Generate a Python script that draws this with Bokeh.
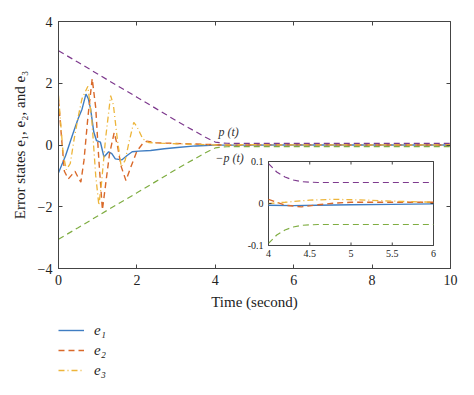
import math
from bokeh.plotting import figure
from bokeh.layouts import column
from bokeh.models import (Range1d, LinearAxis, FixedTicker, Legend, LegendItem)
from bokeh.core.properties import value
from bokeh.embed import file_html
from bokeh.resources import INLINE

# ---------------- data ----------------
t_p = [0, 0.5, 1, 1.5, 2, 2.5, 3, 3.5, 3.75, 4.0, 4.1, 4.2, 4.3, 4.4, 4.6, 5, 6, 8, 10]
p_vals = [3.05, 2.68, 2.3, 1.92, 1.55, 1.17, 0.79, 0.43, 0.25, 0.095, 0.075, 0.063,
          0.056, 0.052, 0.05, 0.05, 0.05, 0.05, 0.05]
neg_p_vals = [-v for v in p_vals]

t_e1 = [0, 0.18, 0.35, 0.5, 0.6, 0.7, 0.76, 0.82, 0.9, 0.97, 1.07, 1.16, 1.28, 1.36,
        1.45, 1.62, 1.75, 1.88, 2.05, 2.35, 2.7, 3.03, 3.5, 4.0, 4.3, 4.6, 5.0, 5.5,
        6.0, 8.0, 10.0]
e1 = [-0.9, -0.35, 0.3, 0.85, 1.16, 1.65, 1.5, 1.16, 0.42, 0.14, 0.09, -0.39, -0.22,
      -0.28, -0.45, -0.48, -0.34, -0.22, -0.2, -0.18, -0.12, -0.08, -0.03, -0.004,
      -0.005, -0.004, -0.003, -0.002, -0.001, 0.0, 0.0]

t_e2 = [0, 0.08, 0.15, 0.25, 0.35, 0.42, 0.5, 0.57, 0.65, 0.75, 0.86, 0.95, 1.03,
        1.12, 1.2, 1.3, 1.42, 1.5, 1.6, 1.72, 1.85, 2.0, 2.15, 2.25, 2.5, 3.0, 3.5,
        4.0, 4.2, 4.4, 4.6, 4.8, 5.0, 5.5, 6.0, 8.0, 10.0]
e2 = [1.45, 0.2, -0.85, -1.1, -0.95, -0.85, -1.05, -1.2, -0.5, 0.9, 2.15, 1.2, -0.5,
      -2.1, -1.3, -0.3, 0.4, 0.0, -0.7, -1.15, -0.7, -0.2, 0.05, 0.12, 0.07, 0.05,
      0.03, 0.01, -0.004, -0.008, -0.003, 0.001, 0.003, 0.003, 0.003, 0.002, 0.002]

t_e3 = [0, 0.05, 0.12, 0.2, 0.3, 0.4, 0.5, 0.6, 0.75, 0.85, 0.95, 1.03, 1.1, 1.2,
        1.33, 1.4, 1.5, 1.6, 1.7, 1.8, 1.92, 2.0, 2.15, 2.3, 2.6, 3.0, 3.5, 4.0,
        4.2, 4.5, 4.8, 5.2, 5.6, 6.0, 8.0, 10.0]
e3 = [1.6, 0.8, -0.3, -0.8, -0.6, 0.2, 0.9, 1.5, 1.9, 0.8, -1.0, -1.95, -1.2, 0.2,
      1.6, 1.3, 0.2, -0.7, -0.5, 0.1, 0.73, 0.6, 0.2, 0.08, 0.06, 0.04, 0.02, 0.0,
      0.003, 0.008, 0.01, 0.008, 0.005, 0.003, 0.002, 0.002]

x_ticks = [0, 2, 4, 6, 8, 10]
y_ticks = [-4, -2, 0, 2, 4]
inset_x_ticks = [4, 4.5, 5, 5.5, 6]
inset_x_labels = ["4", "4.5", "5", "5.5", "6"]
inset_y_ticks = [-0.1, 0, 0.1]
inset_y_labels = ["-0.1", "0", "0.1"]
legend_labels = ["e₁", "e₂", "e₃"]

# ---------------- styles ----------------
BLUE = "#3f7dc2"
ORANGE = "#d9692a"
YELLOW = "#edb53a"
PURPLE = "#7e3a8e"
GREEN = "#7fad42"
AXC = "#444444"
FONT = "Liberation Serif"
STYLES = {"e1": dict(line_color=BLUE, line_width=1.4),
          "e2": dict(line_color=ORANGE, line_width=1.4, line_dash="6 4"),
          "e3": dict(line_color=YELLOW, line_width=1.3, line_dash="6 3 1 3")}
SERIES = {"e1": (t_e1, e1), "e2": (t_e2, e2), "e3": (t_e3, e3)}

p = figure(width=466, height=314, min_border_left=58, min_border_right=16,
           min_border_top=21, min_border_bottom=46,
           x_range=Range1d(0, 10), y_range=Range1d(-4, 4),
           output_backend="svg", toolbar_location=None)
p.background_fill_color = "white"
p.border_fill_color = "white"
p.outline_line_color = AXC
p.xgrid.visible = False
p.ygrid.visible = False

for ax in (p.xaxis[0], p.yaxis[0]):
    ax.axis_line_color = AXC
    ax.major_tick_line_color = AXC
    ax.major_tick_in = 4
    ax.major_tick_out = 0
    ax.minor_tick_line_color = None
    ax.major_label_text_font = FONT
    ax.major_label_text_font_size = "14px"
    ax.major_label_text_color = "#222222"
    ax.axis_label_text_font = FONT
    ax.axis_label_text_font_size = "15px"
    ax.axis_label_text_font_style = "normal"
    ax.axis_label_text_color = "#222222"
    ax.major_label_standoff = 6
    ax.axis_label_standoff = 6

p.xaxis[0].ticker = FixedTicker(ticks=x_ticks)
p.yaxis[0].ticker = FixedTicker(ticks=y_ticks)
p.xaxis[0].axis_label = "Time (second)"
p.yaxis[0].axis_label = "Error states e₁, e₂, and e₃"
p.yaxis[0].axis_label_standoff = 7

# box axes (top and right) with inward ticks, no labels
top = LinearAxis(ticker=FixedTicker(ticks=x_ticks[1:-1]), major_label_text_alpha=0,
                 major_label_text_font_size="1px", axis_line_color=AXC,
                 major_tick_line_color=AXC, major_tick_in=4, major_tick_out=0,
                 minor_tick_line_color=None, major_label_standoff=0)
right = LinearAxis(ticker=FixedTicker(ticks=y_ticks[1:-1]), major_label_text_alpha=0,
                   major_label_text_font_size="1px", axis_line_color=AXC,
                   major_tick_line_color=AXC, major_tick_in=4, major_tick_out=0,
                   minor_tick_line_color=None, major_label_standoff=0)
p.add_layout(top, "above")
p.add_layout(right, "right")

# main lines
p.line(t_p, p_vals, line_color=PURPLE, line_width=1.2, line_dash="6 4")
p.line(t_p, neg_p_vals, line_color=GREEN, line_width=1.2, line_dash="6 4")
for key in ["e1", "e2", "e3"]:
    p.line(*SERIES[key], **STYLES[key])

p.text(x=[4.08], y=[0.42], text=["p (t)"], text_font=value(FONT),
       text_font_style="italic", text_font_size="12px", text_color="#333333",
       text_align="left", text_baseline="middle")
p.text(x=[4.0], y=[-0.42], text=["−p (t)"], text_font=value(FONT),
       text_font_style="italic", text_font_size="12px", text_color="#333333",
       text_align="left", text_baseline="middle")

# ---------------- inset (4..6 x -0.1..0.1) drawn through its own ranges ----------------
ix0, ix1 = 4.0, 6.0
iy0, iy1 = -0.1, 0.1
# inset box occupies px x 268..433, y 163..247 of the 392x247 frame (58..450, 23..270)
sx = (ix1 - ix0) / 165.0
sy = (iy1 - iy0) / 84.0
p.extra_x_ranges = {"ix": Range1d(ix0 - 210 * sx, ix1 + 17 * sx)}
p.extra_y_ranges = {"iy": Range1d(iy0 - 23 * sy, iy1 + 140 * sy)}

p.quad(left=[ix0], right=[ix1], bottom=[iy0], top=[iy1], fill_color="white",
       line_color=AXC, line_width=1, x_range_name="ix", y_range_name="iy")


def clip(ts, vs):
    xs, ys = [], []
    for t, v in zip(ts, vs):
        if ix0 <= t <= ix1:
            xs.append(t)
            ys.append(v)
    return xs, ys


for ts, vs, sty in [(t_p, p_vals, dict(line_color=PURPLE, line_width=1.2, line_dash="6 4")),
                    (t_p, neg_p_vals, dict(line_color=GREEN, line_width=1.2, line_dash="6 4")),
                    (t_e1, e1, STYLES["e1"]),
                    (t_e2, e2, STYLES["e2"]),
                    (t_e3, e3, STYLES["e3"])]:
    xs, ys = clip(ts, vs)
    p.line(xs, ys, x_range_name="ix", y_range_name="iy", **sty)

# inset ticks
p.ray(x=inset_x_ticks, y=[iy0] * 5, length=3, length_units="screen", angle=math.pi / 2,
      line_color=AXC, x_range_name="ix", y_range_name="iy")
p.ray(x=inset_x_ticks, y=[iy1] * 5, length=3, length_units="screen", angle=-math.pi / 2,
      line_color=AXC, x_range_name="ix", y_range_name="iy")
p.ray(x=[ix0] * 3, y=inset_y_ticks, length=3, length_units="screen", angle=0,
      line_color=AXC, x_range_name="ix", y_range_name="iy")
p.ray(x=[ix1] * 3, y=inset_y_ticks, length=3, length_units="screen", angle=math.pi,
      line_color=AXC, x_range_name="ix", y_range_name="iy")
p.text(x=inset_x_ticks, y=[iy0] * 5, text=inset_x_labels, text_font=value(FONT),
       text_font_size="10px", text_color="#222222", text_align="center",
       text_baseline="top", y_offset=4, x_range_name="ix", y_range_name="iy")
p.text(x=[ix0] * 3, y=inset_y_ticks, text=inset_y_labels, text_font=value(FONT),
       text_font_size="10px", text_color="#222222", text_align="right",
       text_baseline="middle", x_offset=-5, x_range_name="ix", y_range_name="iy")

# ---------------- legend (separate strip below the axes) ----------------
# the series are drawn here only so the legend has glyphs; the view range hides them
lg = figure(width=466, height=72, min_border_left=58, min_border_right=16,
            min_border_top=6, min_border_bottom=0,
            x_range=Range1d(0, 10), y_range=Range1d(100, 101),
            x_axis_type=None, y_axis_type=None,
            output_backend="svg", toolbar_location=None)
lg.outline_line_color = None
lg.xgrid.visible = False
lg.ygrid.visible = False
lg.background_fill_color = "white"
lg.border_fill_color = "white"
items = []
for key, lab in zip(["e1", "e2", "e3"], legend_labels):
    r = lg.line(*SERIES[key], **STYLES[key])
    items.append(LegendItem(label=lab, renderers=[r]))
legend = Legend(items=items, location="top_left", orientation="vertical",
                border_line_color=None, background_fill_alpha=0,
                glyph_width=26, glyph_height=20, label_height=20, spacing=0,
                padding=0, margin=0, label_standoff=10,
                label_text_font=FONT, label_text_font_style="italic",
                label_text_font_size="15px", label_text_color="#222222")
lg.add_layout(legend, "center")

layout = column(p, lg, spacing=0)
open("out.html", "w").write(file_html(layout, INLINE))
